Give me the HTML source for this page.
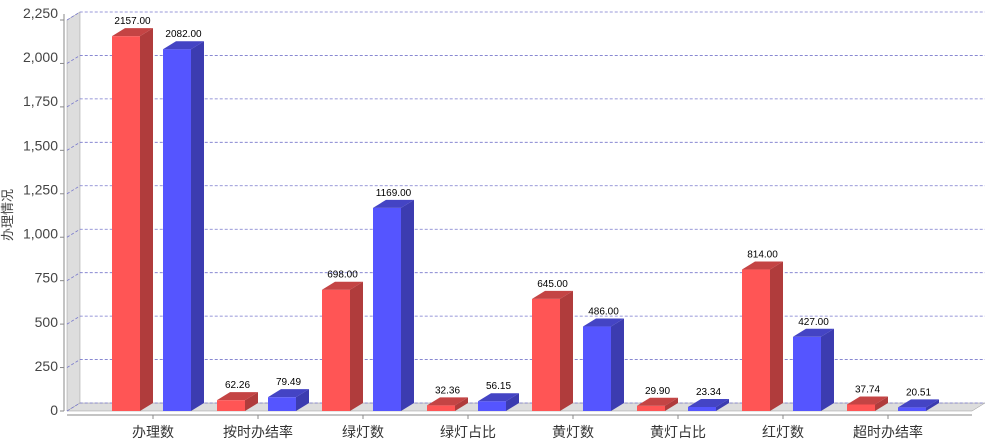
<!DOCTYPE html>
<html><head><meta charset="utf-8"><style>
body{margin:0;background:#fff;}
svg{display:block;font-family:"Liberation Sans","Noto Sans CJK SC",sans-serif;}
</style></head><body>
<svg id="c" width="997" height="442"></svg>
<script>
const categories=["办理数","按时办结率","绿灯数","绿灯占比","黄灯数","黄灯占比","红灯数","超时办结率"];
const seriesA=[2157,62.26,698,32.36,645,29.9,814,37.74];
const seriesB=[2082,79.49,1169,56.15,486,23.34,427,20.51];
const yTicks=[0,250,500,750,1000,1250,1500,1750,2000,2250];
const yTickLabels=["0","250","500","750","1,000","1,250","1,500","1,750","2,000","2,250"];

const svg=document.getElementById('c');
const NS='http://www.w3.org/2000/svg';
const DX=13,DY=-8,X0=67,X1=972,Y0=411,YMAX=2250,H=391;
function y(v){return Y0-v/YMAX*H;}
function el(t,a,p){const e=document.createElementNS(NS,t);for(const k in a)e.setAttribute(k,a[k]);(p||svg).appendChild(e);return e;}
let w=el('polygon',{points:`${X0},${y(YMAX)} ${X0+DX},${y(YMAX)+DY} ${X0+DX},${Y0+DY} ${X0},${Y0}`,fill:'#dddddd',stroke:'#999',"stroke-width":0.5});


let f=el('polygon',{points:`${X0},${Y0} ${X0+DX},${Y0+DY} ${X1+DX},${Y0+DY} ${X1},${Y0}`,fill:'#dddddd',stroke:'#999',"stroke-width":0.5});


yTicks.forEach((t,i)=>{
  const yy=y(t);
  const g=el('polyline',{points:`${X0},${yy} ${X0+DX},${yy+DY} ${X1+DX},${yy+DY}`,fill:'none',stroke:'#7777cc',"stroke-width":0.8,"stroke-dasharray":'3,2'});
  
  
  el('line',{x1:60,x2:64,y1:yy,y2:yy,stroke:'#888'});
  const tx=el('text',{x:58,y:yy+4-6*t/YMAX,"text-anchor":'end',"font-size":14,fill:'#444'});
  tx.textContent=yTickLabels[i];
  
  
});
el('line',{x1:64,x2:64,y1:y(YMAX)-6,y2:Y0,stroke:'#888'});
el('line',{x1:X0,x2:X1,y1:415,y2:415,stroke:'#888'});
const yt=el('text',{x:0,y:0,transform:'translate(12,215) rotate(-90)',"text-anchor":'middle',"font-size":13,fill:'#444'});
yt.textContent='办理情况';


const step=105, C0=153;
const BW=28;
function bar(x,v,face,side,top,name){
  const g=el('g',{});
  
  
  const t=y(v);
  el('rect',{x:x,y:t,width:BW,height:Y0-t,fill:face},g);
  el('polygon',{points:`${x+BW},${t} ${x+BW+DX},${t+DY} ${x+BW+DX},${Y0+DY} ${x+BW},${Y0}`,fill:side},g);
  el('polygon',{points:`${x},${t} ${x+DX},${t+DY} ${x+BW+DX},${t+DY} ${x+BW},${t}`,fill:top},g);
  const l=el('text',{x:x+BW/2+DX/2,y:t+DY-4,"text-anchor":'middle',"font-size":10,fill:'#000'},g);
  l.textContent=v.toFixed(2);
}
categories.forEach((c,i)=>{
  const cx=C0+step*i;
  bar(cx-41,seriesA[i],'#ff5555','#b03c3c','#c44444','bar-red-'+i);
  bar(cx+10,seriesB[i],'#5555ff','#3c3cb0','#4444c4','bar-blue-'+i);
  el('line',{x1:cx,x2:cx,y1:415,y2:419,stroke:'#888'});
  const t=el('text',{x:cx,y:437,"text-anchor":'middle',"font-size":14,fill:'#333'});
  t.textContent=c;
  
  
});
</script>
</body></html>
